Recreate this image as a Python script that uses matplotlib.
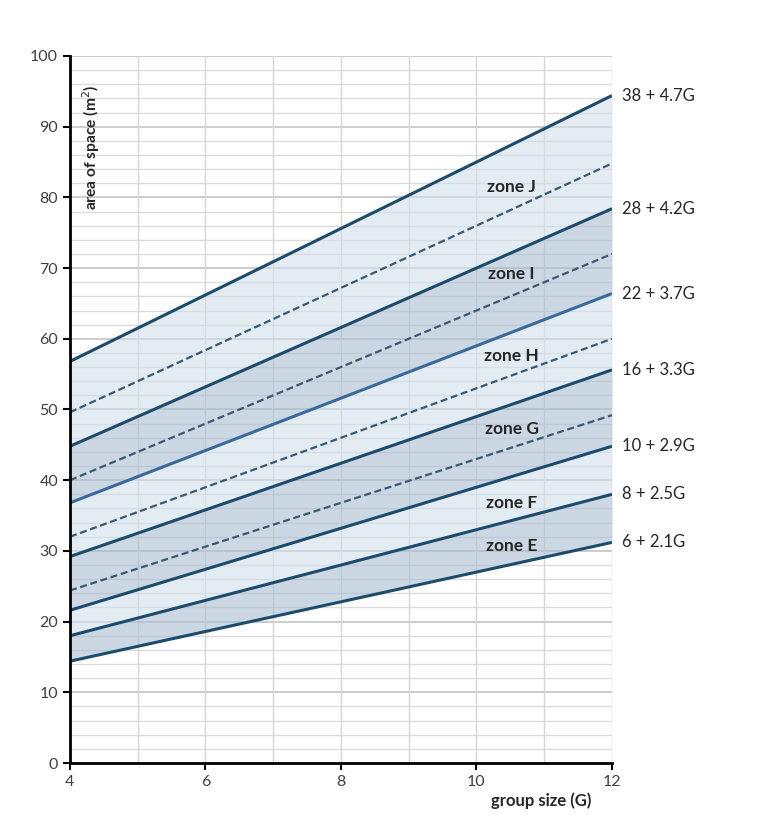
import numpy as np
import matplotlib
matplotlib.use("Agg")
import matplotlib.pyplot as plt

plt.rcParams['font.family'] = ['Lato', 'DejaVu Sans']

# group size range
g = np.array([4, 12])

# boundary lines: intercept, slope (area = a + b*G)
bound_a = [6, 8, 10, 16, 22, 28, 38]
bound_b = [2.1, 2.5, 2.9, 3.3, 3.7, 4.2, 4.7]
bound_labels = ["6 + 2.1G", "8 + 2.5G", "10 + 2.9G", "16 + 3.3G",
                "22 + 3.7G", "28 + 4.2G", "38 + 4.7G"]

# dashed mid lines
mid_a = [12, 18, 24, 32]
mid_b = [3.1, 3.5, 4.0, 4.4]

zone_names = ["zone E", "zone F", "zone G", "zone H", "zone I", "zone J"]
zone_y = [30.7, 36.8, 47.2, 57.6, 69.2, 81.5]
zone_dark = [True, False, True, False, True, False]

fig = plt.figure(figsize=(7.68, 8.15), dpi=100)
ax = fig.add_axes([0.0911, 0.0638, 0.7057, 0.8675])

# grid
for yv in np.arange(2, 101, 2):
    major = yv % 10 == 0
    ax.axhline(yv, color="#c8c8c8" if major else "#dcdcdc", lw=1.3 if major else 1.0, zorder=0)
for xv in np.arange(5, 12.5, 1):
    ax.axvline(xv, color="#d6d6d6", lw=1.0, zorder=0)

# zone fills
for i in range(len(zone_names)):
    lo = bound_a[i] + bound_b[i] * g
    hi = bound_a[i + 1] + bound_b[i + 1] * g
    col = "#a9bfd1" if zone_dark[i] else "#d3e0ec"
    ax.fill_between(g, lo, hi, color=col, alpha=0.6, lw=0, zorder=1)

# boundary lines
for a, b, lab in zip(bound_a, bound_b, bound_labels):
    c = "#3a6a99" if a == 22 else "#1d4b6b"
    ax.plot(g, a + b * g, color=c, lw=2.2, zorder=3, solid_capstyle="butt")
    ax.text(12.15, a + b * 12, lab, fontsize=12, va="center", ha="left",
            color="#262626", clip_on=False)

for a, b in zip(mid_a, mid_b):
    ax.plot(g, a + b * g, color="#3b5970", lw=1.6, ls=(0, (3.2, 1.6)), zorder=3)

for name, yv in zip(zone_names, zone_y):
    ax.text(10.52, yv, name, fontsize=12.5, fontweight="bold", ha="center",
            va="center", color="#262626", zorder=4)

ax.text(4.32, 87, "area of space (m$^2$)", rotation=90, fontsize=11.2,
        fontweight="bold", ha="center", va="center", color="#262626")
ax.text(10.95, -5.4, "group size (G)", fontsize=12, fontweight="bold",
        ha="center", va="center", color="#262626", clip_on=False)

ax.set_xlim(4, 12)
ax.set_ylim(0, 100)
ax.set_xticks([4, 6, 8, 10, 12])
ax.set_yticks(np.arange(0, 101, 10))
ax.tick_params(axis="both", direction="out", length=5, width=1.5,
               labelsize=11.5, labelcolor="#404040", color="black")
for s in ["top", "right"]:
    ax.spines[s].set_visible(False)
for s in ["left", "bottom"]:
    ax.spines[s].set_linewidth(2)
    ax.spines[s].set_color("black")
    ax.spines[s].set_zorder(5)

fig.savefig("out.png", dpi=100)
